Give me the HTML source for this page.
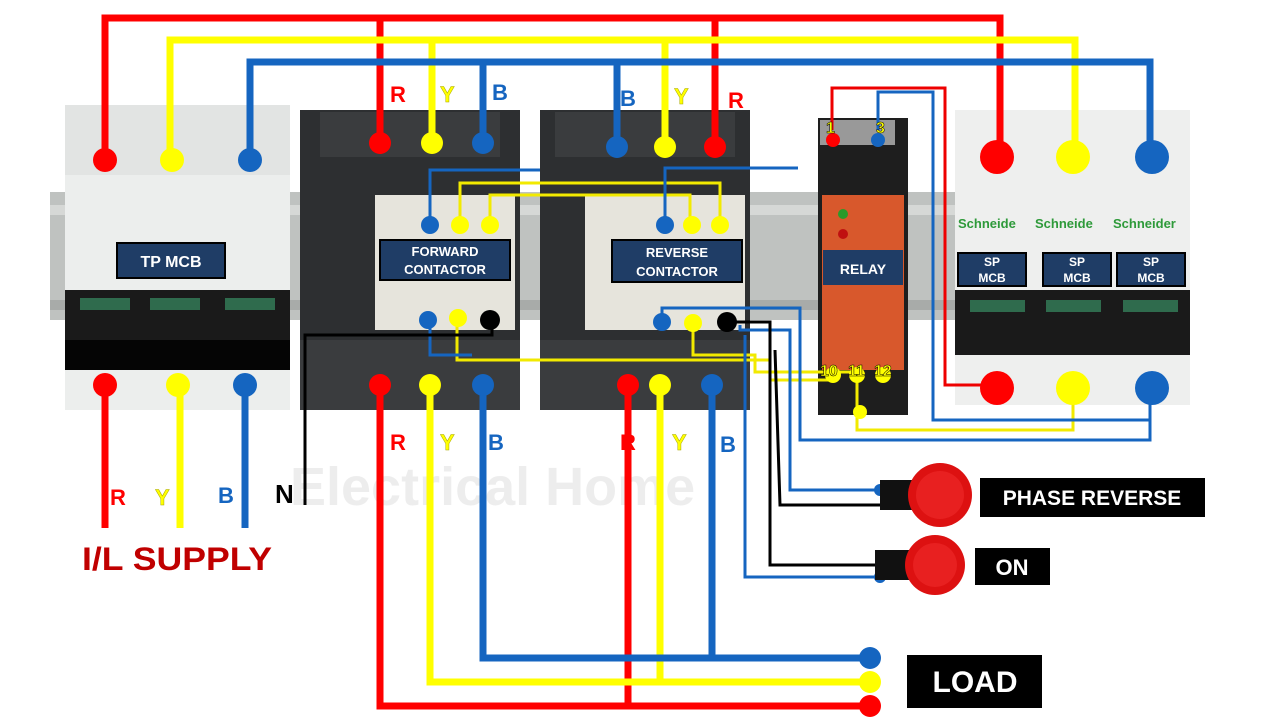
<!DOCTYPE html>
<html><head><meta charset="utf-8"><style>
html,body{margin:0;padding:0;background:#fff;width:1280px;height:720px;overflow:hidden}
svg{display:block}
text{font-family:"Liberation Sans",sans-serif;font-weight:bold}
</style></head><body>
<svg width="1280" height="720" viewBox="0 0 1280 720">
<rect x="50" y="192" width="1140" height="128" fill="#bfc2c0"/>
<rect x="50" y="205" width="1140" height="10" fill="#d6d8d6"/>
<rect x="50" y="300" width="1140" height="10" fill="#a8aba9"/>

<rect x="65" y="105" width="225" height="305" fill="#eceeed"/>
<rect x="65" y="105" width="225" height="70" fill="#e2e4e3"/>
<rect x="65" y="290" width="225" height="80" fill="#1a1a1a"/>
<rect x="80" y="298" width="50" height="12" fill="#2f6b4d"/><rect x="150" y="298" width="50" height="12" fill="#2f6b4d"/><rect x="225" y="298" width="50" height="12" fill="#2f6b4d"/>
<rect x="65" y="340" width="225" height="30" fill="#050505"/>
<rect x="117" y="243" width="108" height="35" fill="#1f3d66" stroke="#000" stroke-width="2"/>
<text x="171" y="267" fill="#fff" font-size="16" text-anchor="middle">TP MCB</text>

<rect x="300" y="110" width="220" height="300" fill="#2d2f31"/>
<rect x="320" y="112" width="180" height="45" fill="#3a3c3e"/>
<rect x="375" y="195" width="140" height="135" fill="#e6e4dc"/>
<rect x="300" y="340" width="220" height="70" fill="#3a3c3e"/>
<rect x="380" y="240" width="130" height="40" fill="#1f3d66" stroke="#000" stroke-width="2"/>
<text x="445" y="256" fill="#fff" font-size="13" text-anchor="middle">FORWARD</text>
<text x="445" y="274" fill="#fff" font-size="13" text-anchor="middle">CONTACTOR</text>

<rect x="540" y="110" width="210" height="300" fill="#2d2f31"/>
<rect x="555" y="112" width="180" height="45" fill="#3a3c3e"/>
<rect x="585" y="195" width="160" height="135" fill="#e6e4dc"/>
<rect x="540" y="340" width="210" height="70" fill="#3a3c3e"/>
<rect x="612" y="240" width="130" height="42" fill="#1f3d66" stroke="#000" stroke-width="2"/>
<text x="677" y="257" fill="#fff" font-size="13" text-anchor="middle">REVERSE</text>
<text x="677" y="276" fill="#fff" font-size="13" text-anchor="middle">CONTACTOR</text>

<rect x="818" y="118" width="90" height="297" fill="#1e1e1e"/>
<rect x="820" y="120" width="75" height="25" fill="#999"/>
<rect x="822" y="195" width="82" height="215" fill="#d8582c"/>
<circle cx="843" cy="214" r="5" fill="#2a9a2a"/><circle cx="843" cy="234" r="5" fill="#c01010"/>
<rect x="823" y="250" width="80" height="35" fill="#1f3d66"/>
<text x="863" y="274" fill="#fff" font-size="14" text-anchor="middle">RELAY</text>
<rect x="818" y="370" width="90" height="45" fill="#1e1e1e"/>

<rect x="955" y="110" width="235" height="295" fill="#eeefee"/>
<rect x="955" y="290" width="235" height="65" fill="#1a1a1a"/>
<rect x="970" y="300" width="55" height="12" fill="#2f6b4d"/><rect x="1046" y="300" width="55" height="12" fill="#2f6b4d"/><rect x="1123" y="300" width="55" height="12" fill="#2f6b4d"/>
<text x="958" y="228" fill="#2e9a3a" font-size="13">Schneide</text><text x="1035" y="228" fill="#2e9a3a" font-size="13">Schneide</text><text x="1113" y="228" fill="#2e9a3a" font-size="13">Schneider</text>
<g fill="#1f3d66" stroke="#000" stroke-width="2">
<rect x="958" y="253" width="68" height="33"/><rect x="1043" y="253" width="68" height="33"/><rect x="1117" y="253" width="68" height="33"/></g>
<g fill="#fff" font-size="12" text-anchor="middle">
<text x="992" y="266">SP</text><text x="992" y="282">MCB</text>
<text x="1077" y="266">SP</text><text x="1077" y="282">MCB</text>
<text x="1151" y="266">SP</text><text x="1151" y="282">MCB</text></g>

<text x="290" y="505" fill="#000" fill-opacity="0.07" font-size="54" font-weight="normal">Electrical Home</text>

<g fill="none" stroke-width="3">
<polyline points="457,318 457,360 770,360 770,380 830,380 830,372" stroke="#f2ea00"/>
<polyline points="693,323 693,355 755,355 755,372 855,372" stroke="#f2ea00"/>
<polyline points="857,372 857,412 857,430 1073,430 1073,390" stroke="#f2ea00"/>
<polyline points="460,220 460,183 720,183 720,220" stroke="#f2ea00"/>
<polyline points="490,220 490,195 690,195 690,220" stroke="#f2ea00"/>
<polyline points="430,220 430,170 540,170" stroke="#1565c0"/>
<polyline points="430,322 430,355 472,355" stroke="#1565c0"/>
<polyline points="662,322 662,308 800,308 800,440 1150,440 1150,390" stroke="#1565c0"/>
<polyline points="665,225 665,168 798,168" stroke="#1565c0"/>
<polyline points="740,325 740,330 790,330 790,490 880,490" stroke="#1565c0"/>
<polyline points="745,335 745,577 880,577" stroke="#1565c0"/>
<polyline points="878,130 878,92 933,92 933,420 1150,420" stroke="#1565c0"/>
<polyline points="832,130 832,88 945,88 945,385 995,385" stroke="#e00"/>
<polyline points="492,320 492,335 305,335 305,505" stroke="#000"/>
<polyline points="728,322 770,322 770,565 880,565" stroke="#000"/>
<polyline points="775,350 780,505 880,505" stroke="#000"/>
</g>

<g fill="none" stroke-width="7">
<polyline points="105,160 105,18 1000,18 1000,155" stroke="#f00"/>
<polyline points="380,140 380,18" stroke="#f00"/>
<polyline points="715,145 715,18" stroke="#f00"/>
<polyline points="170,160 170,40 1075,40 1075,155" stroke="#ff0"/>
<polyline points="432,140 432,40" stroke="#ff0"/>
<polyline points="665,145 665,40" stroke="#ff0"/>
<polyline points="250,160 250,62 1150,62 1150,155" stroke="#1565c0"/>
<polyline points="483,140 483,62" stroke="#1565c0"/>
<polyline points="617,145 617,62" stroke="#1565c0"/>
<polyline points="105,385 105,528" stroke="#f00"/>
<polyline points="180,385 180,528" stroke="#ff0"/>
<polyline points="245,385 245,528" stroke="#1565c0"/>
<polyline points="380,385 380,706 870,706" stroke="#f00"/>
<polyline points="628,385 628,706" stroke="#f00"/>
<polyline points="430,385 430,682 870,682" stroke="#ff0"/>
<polyline points="660,385 660,682" stroke="#ff0"/>
<polyline points="483,385 483,658 870,658" stroke="#1565c0"/>
<polyline points="712,385 712,658" stroke="#1565c0"/>
</g>

<g>
<circle cx="105" cy="160" r="12" fill="#f00"/><circle cx="172" cy="160" r="12" fill="#ff0"/><circle cx="250" cy="160" r="12" fill="#1565c0"/>
<circle cx="105" cy="385" r="12" fill="#f00"/><circle cx="178" cy="385" r="12" fill="#ff0"/><circle cx="245" cy="385" r="12" fill="#1565c0"/>
<circle cx="380" cy="143" r="11" fill="#f00"/><circle cx="432" cy="143" r="11" fill="#ff0"/><circle cx="483" cy="143" r="11" fill="#1565c0"/>
<circle cx="617" cy="147" r="11" fill="#1565c0"/><circle cx="665" cy="147" r="11" fill="#ff0"/><circle cx="715" cy="147" r="11" fill="#f00"/>
<circle cx="380" cy="385" r="11" fill="#f00"/><circle cx="430" cy="385" r="11" fill="#ff0"/><circle cx="483" cy="385" r="11" fill="#1565c0"/>
<circle cx="628" cy="385" r="11" fill="#f00"/><circle cx="660" cy="385" r="11" fill="#ff0"/><circle cx="712" cy="385" r="11" fill="#1565c0"/>
<circle cx="430" cy="225" r="9" fill="#1565c0"/><circle cx="460" cy="225" r="9" fill="#ff0"/><circle cx="490" cy="225" r="9" fill="#ff0"/>
<circle cx="665" cy="225" r="9" fill="#1565c0"/><circle cx="692" cy="225" r="9" fill="#ff0"/><circle cx="720" cy="225" r="9" fill="#ff0"/>
<circle cx="428" cy="320" r="9" fill="#1565c0"/><circle cx="458" cy="318" r="9" fill="#ff0"/><circle cx="490" cy="320" r="10" fill="#000"/>
<circle cx="662" cy="322" r="9" fill="#1565c0"/><circle cx="693" cy="323" r="9" fill="#ff0"/><circle cx="727" cy="322" r="10" fill="#000"/>
<circle cx="833" cy="140" r="7" fill="#f00"/><circle cx="878" cy="140" r="7" fill="#1565c0"/>
<circle cx="833" cy="375" r="8" fill="#ff0"/><circle cx="857" cy="375" r="8" fill="#ff0"/><circle cx="883" cy="375" r="8" fill="#ff0"/><circle cx="860" cy="412" r="7" fill="#ff0"/>
<circle cx="997" cy="157" r="17" fill="#f00"/><circle cx="1073" cy="157" r="17" fill="#ff0"/><circle cx="1152" cy="157" r="17" fill="#1565c0"/>
<circle cx="997" cy="388" r="17" fill="#f00"/><circle cx="1073" cy="388" r="17" fill="#ff0"/><circle cx="1152" cy="388" r="17" fill="#1565c0"/>
<circle cx="870" cy="658" r="11" fill="#1565c0"/><circle cx="870" cy="682" r="11" fill="#ff0"/><circle cx="870" cy="706" r="11" fill="#f00"/>
<circle cx="880" cy="490" r="6" fill="#1565c0"/><circle cx="880" cy="577" r="6" fill="#1565c0"/>
</g>
<g font-size="16" fill="#ff0" stroke="#000" stroke-width="0.5">
<text x="826" y="133" fill="#ff0">1</text><text x="876" y="133">3</text>
<text x="820" y="376">10</text><text x="848" y="376">11</text><text x="874" y="376">12</text></g>

<rect x="880" y="480" width="40" height="30" fill="#111"/>
<circle cx="940" cy="495" r="32" fill="#d11"/><circle cx="940" cy="495" r="24" fill="#e82020"/>
<rect x="875" y="550" width="40" height="30" fill="#111"/>
<circle cx="935" cy="565" r="30" fill="#d11"/><circle cx="935" cy="565" r="22" fill="#e82020"/>

<g font-size="22" font-weight="normal">
<text x="390" y="102" fill="#f00">R</text><text x="440" y="102" fill="#ff0" stroke="#aa0" stroke-width="0.5">Y</text><text x="492" y="100" fill="#1565c0">B</text>
<text x="620" y="106" fill="#1565c0">B</text><text x="674" y="104" fill="#ff0" stroke="#aa0" stroke-width="0.5">Y</text><text x="728" y="108" fill="#f00">R</text>
<text x="390" y="450" fill="#f00">R</text><text x="440" y="450" fill="#ff0" stroke="#aa0" stroke-width="0.5">Y</text><text x="488" y="450" fill="#1565c0">B</text>
<text x="620" y="450" fill="#f00">R</text><text x="672" y="450" fill="#ff0" stroke="#aa0" stroke-width="0.5">Y</text><text x="720" y="452" fill="#1565c0">B</text>
<text x="110" y="505" fill="#f00">R</text><text x="155" y="505" fill="#ff0" stroke="#aa0" stroke-width="0.5">Y</text><text x="218" y="503" fill="#1565c0">B</text>
<text x="275" y="503" fill="#000" font-size="26">N</text></g>
<text x="82" y="570" fill="#c00000" font-size="32" textLength="190" lengthAdjust="spacingAndGlyphs">I/L SUPPLY</text>

<rect x="980" y="478" width="225" height="39" fill="#000"/>
<text x="1092" y="505" fill="#fff" font-size="21" text-anchor="middle">PHASE REVERSE</text>
<rect x="975" y="548" width="75" height="37" fill="#000"/>
<text x="1012" y="575" fill="#fff" font-size="22" text-anchor="middle">ON</text>
<rect x="907" y="655" width="135" height="53" fill="#000"/>
<text x="975" y="692" fill="#fff" font-size="30" text-anchor="middle">LOAD</text>
</svg>
</body></html>
